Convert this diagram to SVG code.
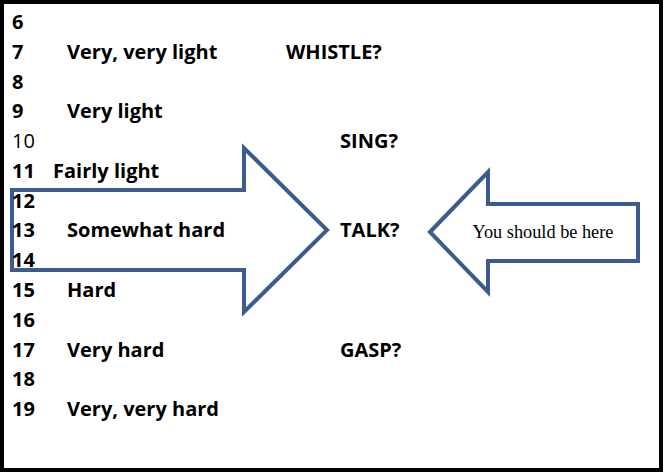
<svg xmlns="http://www.w3.org/2000/svg" width="667" height="474" viewBox="0 0 667 474">
<style>
.t{font-family:"Open Sans","Liberation Sans",sans-serif;font-size:20px;font-weight:bold;fill:#000}
.r{font-weight:normal}
.arrow{fill:#fff;stroke:#3b5c8c;stroke-width:4;stroke-linejoin:miter}
.s{font-family:"Liberation Serif","Times New Roman",serif;font-size:18.3px;fill:#000}
</style>
<rect x="0" y="0" width="667" height="474" fill="#fff"/>
<rect x="2" y="2" width="659" height="468" fill="#fff" stroke="#000" stroke-width="4"/>
<g id="arrow-right">
<polygon class="arrow" points="12,190 244,190 244,148 327,230 244,312 244,270 12,270"/>
</g>
<g id="arrow-left">
<polygon class="arrow" points="430,232 488,172 488,204 638,204 638,261 488,261 488,292"/>
<text class="s" x="543" y="238" text-anchor="middle">You should be here</text>
</g>
<g id="scale">
<text class="t" x="12" y="29">6</text>
<text class="t" x="12" y="59">7</text>
<text class="t" x="67" y="59">Very, very light</text>
<text class="t" x="12" y="88.5">8</text>
<text class="t" x="12" y="118">9</text>
<text class="t" x="67" y="118">Very light</text>
<text class="t r" x="12" y="148">10</text>
<text class="t" x="12" y="178">11</text>
<text class="t" x="53" y="178">Fairly light</text>
<text class="t" x="12" y="207.5">12</text>
<text class="t" x="12" y="237">13</text>
<text class="t" x="67" y="237">Somewhat hard</text>
<text class="t" x="12" y="267">14</text>
<text class="t" x="12" y="297">15</text>
<text class="t" x="67" y="297">Hard</text>
<text class="t" x="12" y="326.5">16</text>
<text class="t" x="12" y="356.5">17</text>
<text class="t" x="67" y="356.5">Very hard</text>
<text class="t" x="12" y="386">18</text>
<text class="t" x="12" y="416">19</text>
<text class="t" x="67" y="416">Very, very hard</text>
</g>
<g id="actions">
<text class="t" x="286" y="59">WHISTLE?</text>
<text class="t" x="340" y="148">SING?</text>
<text class="t" x="340" y="237">TALK?</text>
<text class="t" x="340" y="356.5">GASP?</text>
</g>
</svg>
